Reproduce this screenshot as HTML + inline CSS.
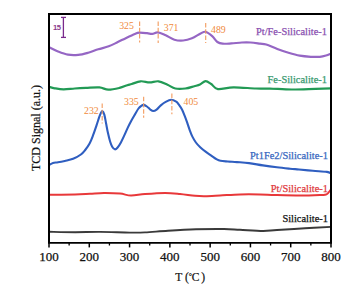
<!DOCTYPE html>
<html><head><meta charset="utf-8"><style>
html,body{margin:0;padding:0;background:#fff;width:358px;height:287px;overflow:hidden}
svg{display:block}
text{font-family:"Liberation Serif",serif}
.ax{font-size:13px;fill:#111;stroke:#111;stroke-width:0.25}
.lb{font-size:10.4px;stroke-width:0.25}
.pk{font-size:9.8px;fill:#f08a3c}
</style></head><body>
<svg width="358" height="287" viewBox="0 0 358 287">
<rect x="0" y="0" width="358" height="287" fill="#fff"/>
<path d="M49.00,47.20 C50.50,47.92 54.83,50.25 58.00,51.50 C61.17,52.75 64.63,54.13 68.00,54.70 C71.37,55.27 74.83,55.23 78.20,54.90 C81.57,54.57 84.85,53.63 88.20,52.70 C91.55,51.77 94.88,50.37 98.30,49.30 C101.72,48.23 105.52,47.47 108.70,46.30 C111.88,45.13 114.48,43.70 117.40,42.30 C120.32,40.90 123.28,39.30 126.20,37.90 C129.12,36.50 132.73,34.77 134.90,33.90 C137.07,33.03 137.17,32.82 139.20,32.70 C141.23,32.58 144.92,33.00 147.10,33.20 C149.28,33.40 150.52,34.05 152.30,33.90 C154.08,33.75 155.57,32.07 157.80,32.30 C160.03,32.53 162.93,34.07 165.70,35.30 C168.47,36.53 171.50,38.83 174.40,39.70 C177.30,40.57 180.18,40.73 183.10,40.50 C186.02,40.27 188.98,39.47 191.90,38.30 C194.82,37.13 198.32,34.58 200.60,33.50 C202.88,32.42 203.67,31.35 205.60,31.80 C207.53,32.25 210.23,34.50 212.20,36.20 C214.17,37.90 215.65,40.75 217.40,42.00 C219.15,43.25 220.37,43.47 222.70,43.70 C225.03,43.93 228.20,43.60 231.40,43.40 C234.60,43.20 238.70,42.65 241.90,42.50 C245.10,42.35 247.58,42.32 250.60,42.50 C253.62,42.68 257.40,43.27 260.00,43.60 C262.60,43.93 263.32,43.60 266.20,44.50 C269.08,45.40 273.58,47.62 277.30,49.00 C281.02,50.38 284.77,51.68 288.50,52.80 C292.23,53.92 295.97,55.03 299.70,55.70 C303.43,56.37 307.55,56.62 310.90,56.80 C314.25,56.98 317.28,57.02 319.80,56.80 C322.32,56.58 324.13,56.05 326.00,55.50 C327.87,54.95 330.17,53.83 331.00,53.50" fill="none" stroke="#9566c4" stroke-width="2.2" stroke-linejoin="round"/>
<path d="M49.00,86.80 C49.95,87.05 52.27,87.87 54.70,88.30 C57.13,88.73 60.25,89.37 63.60,89.40 C66.95,89.43 71.07,88.75 74.80,88.50 C78.53,88.25 81.90,88.08 86.00,87.90 C90.10,87.72 95.68,87.10 99.40,87.40 C103.12,87.70 104.95,89.62 108.30,89.70 C111.65,89.78 116.33,88.65 119.50,87.90 C122.67,87.15 125.27,85.85 127.30,85.20 C129.33,84.55 129.48,84.65 131.70,84.00 C133.92,83.35 137.62,81.57 140.60,81.30 C143.58,81.03 146.62,82.40 149.60,82.40 C152.58,82.40 155.52,80.92 158.50,81.30 C161.48,81.68 164.70,83.50 167.50,84.70 C170.30,85.90 172.33,87.87 175.30,88.50 C178.27,89.13 182.13,88.88 185.30,88.50 C188.47,88.12 191.85,86.87 194.30,86.20 C196.75,85.53 198.12,85.35 200.00,84.50 C201.88,83.65 203.73,81.18 205.60,81.10 C207.47,81.02 209.15,82.67 211.20,84.00 C213.25,85.33 214.18,88.55 217.90,89.10 C221.62,89.65 227.17,87.40 233.50,87.30 C239.83,87.20 249.82,88.28 255.90,88.50 C261.98,88.72 264.02,88.43 270.00,88.60 C275.98,88.77 284.23,89.47 291.80,89.50 C299.37,89.53 308.87,89.00 315.40,88.80 C321.93,88.60 328.40,88.38 331.00,88.30" fill="none" stroke="#229a55" stroke-width="2.2" stroke-linejoin="round"/>
<path d="M49.00,165.10 C49.67,164.75 51.50,163.47 53.00,163.00 C54.50,162.53 56.03,162.65 58.00,162.30 C59.97,161.95 62.28,161.48 64.80,160.90 C67.32,160.32 70.42,159.87 73.10,158.80 C75.78,157.73 78.88,155.97 80.90,154.50 C82.92,153.03 83.75,151.83 85.20,150.00 C86.65,148.17 88.28,145.97 89.60,143.50 C90.92,141.03 91.93,138.27 93.10,135.20 C94.27,132.13 95.58,128.10 96.60,125.10 C97.62,122.10 98.48,119.22 99.20,117.20 C99.92,115.18 100.37,114.02 100.90,113.00 C101.43,111.98 101.83,110.83 102.40,111.10 C102.97,111.37 103.68,112.53 104.30,114.60 C104.92,116.67 105.52,120.55 106.10,123.50 C106.68,126.45 107.13,129.30 107.80,132.30 C108.47,135.30 109.37,139.10 110.10,141.50 C110.83,143.90 111.42,145.40 112.20,146.70 C112.98,148.00 113.93,149.12 114.80,149.30 C115.67,149.48 116.38,148.95 117.40,147.80 C118.42,146.65 119.75,144.47 120.90,142.40 C122.05,140.33 123.15,137.87 124.30,135.40 C125.45,132.93 126.63,130.05 127.80,127.60 C128.97,125.15 130.13,122.87 131.30,120.70 C132.47,118.53 133.60,116.63 134.80,114.60 C136.00,112.57 137.42,109.97 138.50,108.50 C139.58,107.03 140.43,106.40 141.30,105.80 C142.17,105.20 142.77,104.78 143.70,104.90 C144.63,105.02 145.78,105.72 146.90,106.50 C148.02,107.28 149.35,108.85 150.40,109.60 C151.45,110.35 152.17,111.00 153.20,111.00 C154.23,111.00 155.33,110.53 156.60,109.60 C157.87,108.67 159.28,106.68 160.80,105.40 C162.32,104.12 163.95,102.83 165.70,101.90 C167.45,100.97 169.55,99.85 171.30,99.80 C173.05,99.75 175.00,100.87 176.20,101.60 C177.40,102.33 177.53,102.87 178.50,104.20 C179.47,105.53 180.98,107.68 182.00,109.60 C183.02,111.52 183.73,113.52 184.60,115.70 C185.47,117.88 186.33,120.27 187.20,122.70 C188.07,125.13 188.93,127.98 189.80,130.30 C190.67,132.62 191.38,134.57 192.40,136.60 C193.42,138.63 194.60,140.73 195.90,142.50 C197.20,144.27 198.58,145.67 200.20,147.20 C201.82,148.73 203.77,150.30 205.60,151.70 C207.43,153.10 209.33,154.32 211.20,155.60 C213.07,156.88 215.25,158.53 216.80,159.40 C218.35,160.27 218.65,160.45 220.50,160.80 C222.35,161.15 225.17,161.28 227.90,161.50 C230.63,161.72 233.38,161.83 236.90,162.10 C240.42,162.37 244.67,162.55 249.00,163.10 C253.33,163.65 258.25,164.70 262.90,165.40 C267.55,166.10 272.38,166.75 276.90,167.30 C281.42,167.85 286.32,168.33 290.00,168.70 C293.68,169.07 295.18,169.15 299.00,169.50 C302.82,169.85 308.25,170.40 312.90,170.80 C317.55,171.20 323.88,171.48 326.90,171.90 C329.92,172.32 330.32,173.07 331.00,173.30" fill="none" stroke="#2f5ec0" stroke-width="2.1" stroke-linejoin="round"/>
<path d="M49.00,194.80 C53.33,194.77 68.17,194.77 75.00,194.60 C81.83,194.43 85.17,194.07 90.00,193.80 C94.83,193.53 99.00,193.03 104.00,193.00 C109.00,192.97 115.50,193.17 120.00,193.60 C124.50,194.03 126.83,195.53 131.00,195.60 C135.17,195.67 139.33,194.45 145.00,194.00 C150.67,193.55 159.17,192.92 165.00,192.90 C170.83,192.88 175.00,193.42 180.00,193.90 C185.00,194.38 190.83,195.42 195.00,195.80 C199.17,196.18 200.83,196.25 205.00,196.20 C209.17,196.15 214.17,195.80 220.00,195.50 C225.83,195.20 233.33,194.58 240.00,194.40 C246.67,194.22 254.17,194.30 260.00,194.40 C265.83,194.50 268.33,194.82 275.00,195.00 C281.67,195.18 292.50,195.50 300.00,195.50 C307.50,195.50 315.58,195.18 320.00,195.00 C324.42,194.82 324.75,195.23 326.50,194.40 C328.25,193.57 329.83,190.73 330.50,190.00" fill="none" stroke="#e8383a" stroke-width="2" stroke-linejoin="round"/>
<path d="M49.00,231.80 C53.33,231.87 66.50,232.18 75.00,232.20 C83.50,232.22 90.83,231.83 100.00,231.90 C109.17,231.97 122.50,232.52 130.00,232.60 C137.50,232.68 138.67,232.72 145.00,232.40 C151.33,232.08 159.50,231.22 168.00,230.70 C176.50,230.18 186.67,229.58 196.00,229.30 C205.33,229.02 216.67,228.92 224.00,229.00 C231.33,229.08 233.50,229.47 240.00,229.80 C246.50,230.13 256.83,230.97 263.00,231.00 C269.17,231.03 270.00,230.45 277.00,230.00 C284.00,229.55 296.00,228.82 305.00,228.30 C314.00,227.78 326.67,227.13 331.00,226.90" fill="none" stroke="#3a3a3a" stroke-width="1.9" stroke-linejoin="round"/>
<line x1="139.64" y1="21.5" x2="139.64" y2="42.5" stroke="#f39a5c" stroke-width="1.1" stroke-dasharray="4.5 1.8"/><line x1="158.17" y1="21.5" x2="158.17" y2="43" stroke="#f39a5c" stroke-width="1.1" stroke-dasharray="4.5 1.8"/><line x1="205.71" y1="23" x2="205.71" y2="43" stroke="#f39a5c" stroke-width="1.1" stroke-dasharray="4.5 1.8"/><line x1="102.18" y1="103.5" x2="102.18" y2="123.5" stroke="#f39a5c" stroke-width="1.1" stroke-dasharray="4.5 1.8"/><line x1="143.67" y1="96.7" x2="143.67" y2="117.7" stroke="#f39a5c" stroke-width="1.1" stroke-dasharray="4.5 1.8"/><line x1="171.87" y1="93.5" x2="171.87" y2="114.3" stroke="#f39a5c" stroke-width="1.1" stroke-dasharray="4.5 1.8"/><text x="119.2" y="28.8" class="pk">325</text><text x="163.8" y="30.9" class="pk">371</text><text x="211" y="32.7" class="pk">489</text><text x="84" y="113.6" class="pk">232</text><text x="124" y="104.8" class="pk">335</text><text x="183.5" y="105.2" class="pk">405</text>
<path d="M49,243 V14 H331 V243" fill="none" stroke="#000" stroke-width="2"/><line x1="48" y1="242.9" x2="332" y2="242.9" stroke="#000" stroke-width="1.6"/>
<line x1="49.00" y1="243" x2="49.00" y2="247.4" stroke="#000" stroke-width="1.5"/><text x="49.00" y="260.6" text-anchor="middle" class="ax">100</text><line x1="89.29" y1="243" x2="89.29" y2="247.4" stroke="#000" stroke-width="1.5"/><text x="89.29" y="260.6" text-anchor="middle" class="ax">200</text><line x1="129.57" y1="243" x2="129.57" y2="247.4" stroke="#000" stroke-width="1.5"/><text x="129.57" y="260.6" text-anchor="middle" class="ax">300</text><line x1="169.86" y1="243" x2="169.86" y2="247.4" stroke="#000" stroke-width="1.5"/><text x="169.86" y="260.6" text-anchor="middle" class="ax">400</text><line x1="210.14" y1="243" x2="210.14" y2="247.4" stroke="#000" stroke-width="1.5"/><text x="210.14" y="260.6" text-anchor="middle" class="ax">500</text><line x1="250.43" y1="243" x2="250.43" y2="247.4" stroke="#000" stroke-width="1.5"/><text x="250.43" y="260.6" text-anchor="middle" class="ax">600</text><line x1="290.71" y1="243" x2="290.71" y2="247.4" stroke="#000" stroke-width="1.5"/><text x="290.71" y="260.6" text-anchor="middle" class="ax">700</text><line x1="331.00" y1="243" x2="331.00" y2="247.4" stroke="#000" stroke-width="1.5"/><text x="331.00" y="260.6" text-anchor="middle" class="ax">800</text><line x1="69.14" y1="243" x2="69.14" y2="245.5" stroke="#000" stroke-width="1.3"/><line x1="109.43" y1="243" x2="109.43" y2="245.5" stroke="#000" stroke-width="1.3"/><line x1="149.71" y1="243" x2="149.71" y2="245.5" stroke="#000" stroke-width="1.3"/><line x1="190.00" y1="243" x2="190.00" y2="245.5" stroke="#000" stroke-width="1.3"/><line x1="230.29" y1="243" x2="230.29" y2="245.5" stroke="#000" stroke-width="1.3"/><line x1="270.57" y1="243" x2="270.57" y2="245.5" stroke="#000" stroke-width="1.3"/><line x1="310.86" y1="243" x2="310.86" y2="245.5" stroke="#000" stroke-width="1.3"/>
<g stroke="#7a2a8c" stroke-width="1.3"><line x1="63.4" y1="17.4" x2="63.4" y2="37.4"/><line x1="61" y1="17.4" x2="66" y2="17.4"/><line x1="61" y1="37.4" x2="66" y2="37.4"/></g>
<text x="53" y="30" style="font-family:'Liberation Sans',sans-serif;font-size:7.6px;font-weight:bold;fill:#8a3a8c;letter-spacing:-0.4px">15</text>
<text x="327" y="34.7" text-anchor="end" class="lb" fill="#8a50b0" stroke="#8a50b0">Pt/Fe-Silicalite-1</text>
<text x="327" y="82.5" text-anchor="end" class="lb" fill="#3a9a70" stroke="#3a9a70">Fe-Silicalite-1</text>
<text x="328" y="158.6" text-anchor="end" class="lb" fill="#3868c0" stroke="#3868c0">Pt1Fe2/Silicalite-1</text>
<text x="328" y="191.8" text-anchor="end" class="lb" fill="#e03a40" stroke="#e03a40">Pt/Silicalite-1</text>
<text x="328" y="221.6" text-anchor="end" class="lb" fill="#111" stroke="#111">Silicalite-1</text>
<text transform="translate(39.5,128) rotate(-90)" text-anchor="middle" style="font-size:12px;fill:#111;stroke:#111;stroke-width:0.2">TCD Signal (a.u.)</text>
<text x="175.3" y="280.8" style="font-size:11.5px;fill:#111;stroke:#111;stroke-width:0.2">T (<tspan style="font-size:8px" dy="-1.5">°</tspan><tspan dy="1.5" dx="-0.3">C</tspan><tspan dx="1.8">)</tspan></text>
</svg>
</body></html>
